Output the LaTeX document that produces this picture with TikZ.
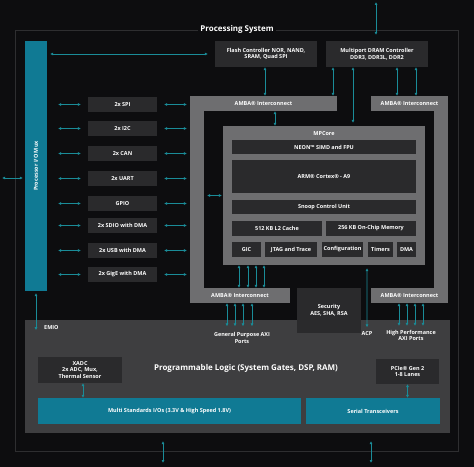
\documentclass[tikz,border=0pt]{standalone}
\usepackage{fontspec}
\setmainfont{Open Sans}
\usetikzlibrary{arrows.meta}
\definecolor{mybg}{RGB}{13,13,15}
\definecolor{myline}{RGB}{46,46,48}
\definecolor{mybox}{RGB}{42,42,44}
\definecolor{mygray}{RGB}{110,110,112}
\definecolor{mypl}{RGB}{62,62,64}
\definecolor{myteal}{RGB}{16,122,148}
\definecolor{myarrow}{RGB}{26,140,152}

\begin{document}
\begin{tikzpicture}[x=1bp, y=-1bp,
    txt/.style={text=white, font=\bfseries\fontsize{5.5}{6.6}\selectfont, align=center, inner sep=0pt},
    big/.style={txt, font=\bfseries\fontsize{8}{9.6}\selectfont},
    sz/.style 2 args={minimum width=#1bp, minimum height=#2bp},
    dbox/.style={txt, fill=mybox},
    gbox/.style={txt, fill=mygray},
    tbox/.style={txt, fill=myteal},
    bi/.style={{Latex[length=3bp,width=3bp]}-{Latex[length=3bp,width=3bp]}, myarrow, line width=0.8bp},
  ]
    \useasboundingbox (0,0) rectangle (474,467);
    \fill[mybg] (0,0) rectangle (474,467);
    % Processing System frame and title
    \node[draw=myline, line width=0.8bp, sz={443}{421}, inner sep=0pt] (PS) at (236.5,240.5) {};
    \node[big, fill=mybg, inner sep=2bp] (PSTitle) at (237,29) {Processing System};
    % I/O mux and memory controllers
    \node[tbox, sz={22}{250}] (Mux) at (36,166) {};
    \node[txt, rotate=90] (MuxText) at (Mux) {Processor I/O Mux};
    \node[dbox, sz={102}{26}] (Flash) at (266,54) {Flash Controller NOR, NAND,\\SRAM, Quad SPI};
    \node[dbox, sz={102}{26}] (DRAM) at (377,54) {Multiport DRAM Controller\\DDR3, DDR3L, DDR2};
    % AMBA interconnect frame
    \node[gbox, sz={147}{15}] (AmbaTL) at (263.5,103.5) {AMBA® Interconnect};
    \node[gbox, sz={77}{15}] (AmbaTR) at (409.5,103.5) {AMBA® Interconnect};
    \node[gbox, sz={14}{177}] (LBar) at (197,199.5) {};
    \node[gbox, sz={14}{177}] (RBar) at (441,199.5) {};
    \node[gbox, sz={100}{15}] (AmbaBL) at (240,295.5) {AMBA® Interconnect};
    \node[gbox, sz={77}{15}] (AmbaBR) at (409.5,295.5) {AMBA® Interconnect};
    % MPCore
    \node[gbox, sz={202}{139}] (MPCore) at (324,195.5) {};
    \node[txt] (MPTitle) at (324,134) {MPCore};
    \node[dbox, sz={184}{14}] (NEON) at (324,147) {NEON™ SIMD and FPU};
    \node[dbox, sz={184}{33}] (ARM) at (324,176.5) {ARM® Cortex® - A9};
    \node[dbox, sz={184}{14}] (SCU) at (324,207) {Snoop Control Unit};
    \node[dbox, sz={90}{15}] (L2) at (277,228.5) {512 KB L2 Cache};
    \node[dbox, sz={90}{15}] (OCM) at (371,228.5) {256 KB On-Chip Memory};
    \node[dbox, sz={29}{15}] (GIC) at (246.5,249.5) {GIC};
    \node[dbox, sz={52}{15}] (JTAG) at (291,249.5) {JTAG and Trace};
    \node[dbox, sz={41}{15}] (Config) at (342.5,249.5) {Configuration};
    \node[dbox, sz={25}{15}] (Timers) at (380.5,249.5) {Timers};
    \node[dbox, sz={19}{15}] (DMA) at (406.5,249.5) {DMA};
    % Peripherals
    \foreach \p/\y/\t in {SPI/104.5/2x SPI, I2C/128.5/2x I2C, CAN/153.5/2x CAN,
        UART/178.5/2x UART, GPIO/203.5/GPIO, SDIO/225.5/2x SDIO with DMA,
        USB/250.5/2x USB with DMA, GigE/274.5/2x GigE with DMA} {
        \node[dbox, sz={69}{15}] (\p) at (122.5,\y) {\t};
        \draw[bi, shorten <=11bp, shorten >=7bp] (Mux.east |- \p.west) -- (\p.west);
        \draw[bi, shorten <=7bp, shorten >=3bp] (\p.east) -- (\p.east -| LBar.west);
    }
    % Programmable Logic
    \node[fill=mypl, sz={425}{113}, inner sep=0pt] (PL) at (237.5,376.5) {};
    \node[big] (PLTitle) at (246,368) {Programmable Logic (System Gates, DSP, RAM)};
    \node[dbox, sz={84}{26}] (XADC) at (80,370) {XADC\\2x ADC, Mux,\\Thermal Sensor};
    \node[tbox, sz={263}{26}] (MSIO) at (169.5,411) {Multi Standards I/Os (3.3V \& High Speed 1.8V)};
    \node[tbox, sz={134}{26}] (Serial) at (373,411) {Serial Transceivers};
    \node[dbox, sz={63}{25}] (PCIe) at (407.5,371.5) {PCIe® Gen 2\\1-8 Lanes};
    \node[dbox, sz={64}{45}] (Sec) at (329,310.5) {Security\\AES, SHA, RSA};
    % Port labels
    \node[txt] (GPAXI) at (242,338) {General Purpose AXI\\Ports};
    \node[txt] (HPAXI) at (411,335.5) {High Performance\\AXI Ports};
    \node[txt] (ACP) at (367,333.5) {ACP};
    \node[txt, anchor=west] (EMIO) at (44,328) {EMIO};
    % Free ends
    \coordinate (ExtL) at (2,178);
    \coordinate (ExtT) at (376,2);
    \coordinate (ExtB1) at (163,463);
    \coordinate (ExtB2) at (371,463);
    % Arrows
    \draw[bi, shorten >=2bp] (ExtL) -- (Mux.west |- ExtL);
    \draw[bi, shorten >=6bp] (ExtT) -- (DRAM.north -| ExtT);
    \draw[bi, shorten <=3bp, shorten >=7bp] (Mux.east |- Flash.west) -- (Flash.west);
    \draw[bi] ([xshift=-1bp]Flash.south) -- ([xshift=-1bp]Flash.south |- AmbaTL.north);
    \foreach \dx in {-44,20,39}
        \draw[bi] ([xshift=\dx bp]DRAM.south) -- ([xshift=\dx bp]DRAM.south |- AmbaTR.north);
    \draw[bi, shorten >=3bp] ([xshift=-24bp]DRAM.south) -- ([xshift=-24bp]DRAM.south |- MPCore.north);
    \draw[bi] ([xshift=-49bp]MPCore.north) -- ([xshift=-49bp]MPCore.north |- AmbaTL.south);
    \draw[bi, shorten <=3bp, shorten >=1bp] (LBar.east |- MPCore.west) -- (MPCore.west);
    \foreach \dx in {-1,8,16,24}
        \draw[bi] ([xshift=\dx bp]AmbaBL.north) -- ([xshift=\dx bp]AmbaBL.north |- MPCore.south);
    \foreach \dx in {-13,-5,3,12}
        \draw[bi, shorten >=6bp] ([xshift=\dx bp]AmbaBL.south) -- ([xshift=\dx bp]AmbaBL.south |- GPAXI.north);
    \foreach \dx in {-10.5,-2.5,5.5,13.5}
        \draw[bi, shorten >=4bp] ([xshift=\dx bp]AmbaBR.south) -- ([xshift=\dx bp]AmbaBR.south |- HPAXI.north);
    \draw[bi, shorten <=3bp, shorten >=4bp] ([xshift=43bp]MPCore.south) -- (ACP.north);
    \draw[bi, shorten <=2bp] (Mux.south) -- (Mux.south |- EMIO.south);
    \draw[bi] ([xshift=3bp]XADC.south) -- ([xshift=3bp]XADC.south |- MSIO.north);
    \draw[bi] (PCIe.south) -- (PCIe.south |- Serial.north);
    \draw[bi, shorten >=8bp] (ExtB1) -- (ExtB1 |- PL.south);
    \draw[bi, shorten >=8bp] (ExtB2) -- (ExtB2 |- PL.south);
\end{tikzpicture}
\end{document}
